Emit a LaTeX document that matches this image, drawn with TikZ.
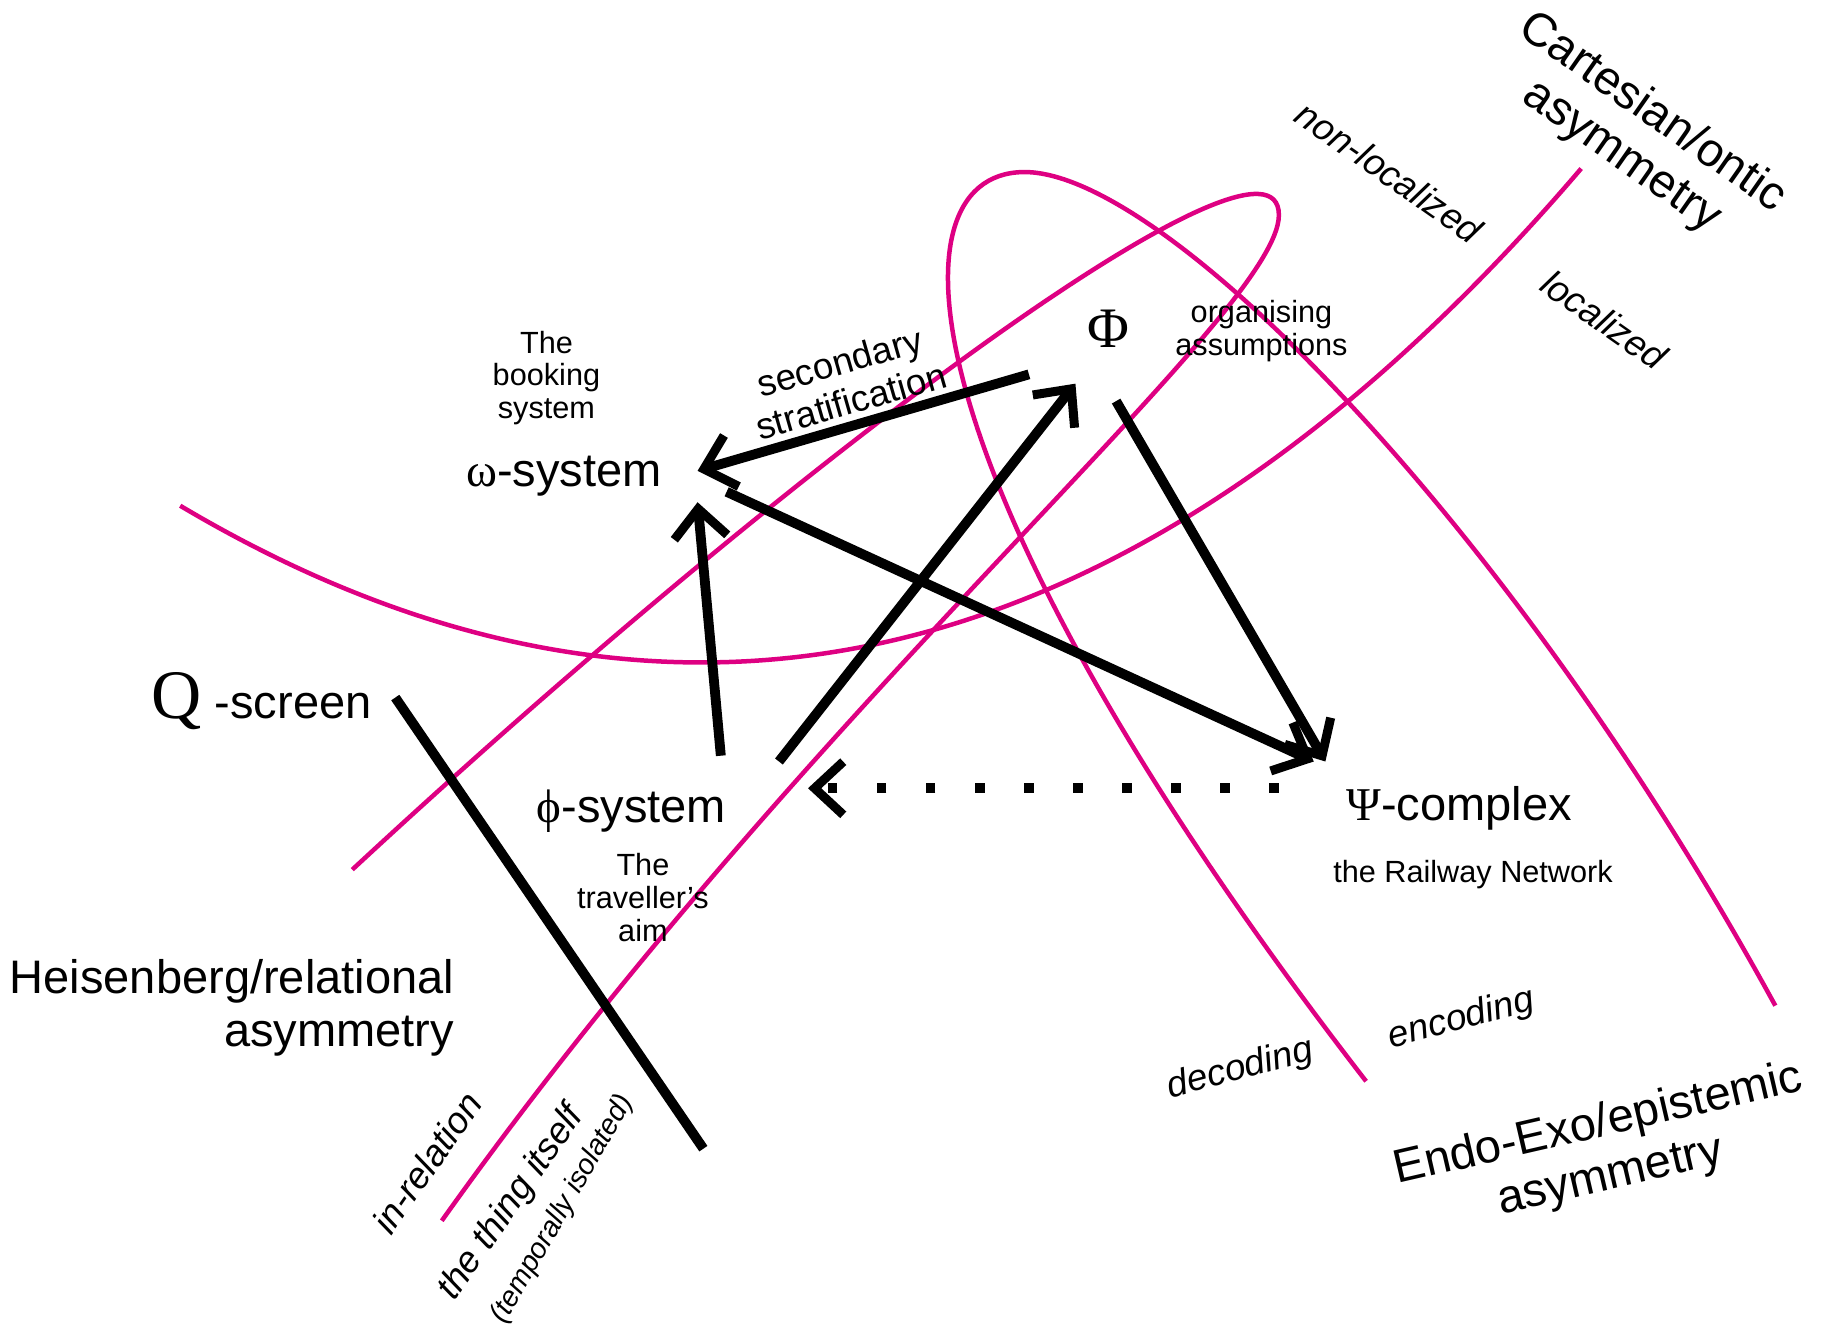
\documentclass[tikz,border=0pt]{standalone}
\usepackage{fontspec}
\setmainfont{Liberation Sans}
\newfontfamily\greek{Liberation Serif}
\usetikzlibrary{arrows.meta}
\definecolor{cut}{RGB}{222,0,130}
\tikzset{
  cutline/.style={cut, line width=1.1pt},
  rel/.style={line width=2.4pt, -{Straight Barb[length=7pt,width=13pt,line width=2.2pt]}},
  small/.style={font=\fontsize{7.5}{8}\selectfont, align=center},
  big/.style={font=\fontsize{11.5}{13}\selectfont},
  side/.style={font=\itshape\fontsize{9}{10}\selectfont},
}
\begin{document}
\begin{tikzpicture}[x=0.01cm, y=-0.01cm]
  \useasboundingbox (0,0) rectangle (1568,1146);

  % cuts
  \draw[cutline] (155,435) .. controls (500,640) and (920,660) .. (1360,145);
  \draw[cutline] (303,748) .. controls (700,380) and (1100,90) .. (1100,185)
                 .. controls (1100,270) and (700,600) .. (380,1050);
  \draw[cutline] (1175,930) .. controls (780,420) and (760,150) .. (880,148)
                 .. controls (1000,146) and (1300,450) .. (1527,865);
  \draw[line width=2.4pt] (340,600) -- (605,988);

  % systems
  \node[small] (book) at (470,325) {The\\booking\\system};
  \node[big] (omega) at (485,410) {{\greek ω}-system};
  \node[font=\fontsize{14}{14}\selectfont\greek] (Phi) at (953,283) {Φ};
  \node[small] (org) at (1085,285) {organising\\assumptions};
  \node[big] (phi) at (543,698) {{\greek ϕ}-system};
  \node[small] (aim) at (553,772) {The\\traveller’s\\aim};
  \node[big] (Psi) at (1255,695) {{\greek Ψ}-complex};
  \node[small] (rail) at (1267,752) {the Railway Network};
  \node[big] (Q) at (225,603) {{\fontsize{17}{17}\selectfont\greek Q} -screen};
  \node[small, font=\fontsize{9}{10}\selectfont, rotate=16] (strat) at (727,328) {secondary\\stratification};

  % ends of the relations
  \coordinate (a1) at (885,322);  \coordinate (a2) at (600,405);
  \coordinate (b1) at (620,650);  \coordinate (b2) at (600,432);
  \coordinate (c1) at (670,655);  \coordinate (c2) at (925,330);
  \coordinate (d1) at (960,345);  \coordinate (d2) at (1140,655);
  \coordinate (e1) at (625,423);  \coordinate (e2) at (1130,655);
  \coordinate (f1) at (1100,678); \coordinate (f2) at (695,678);
  \draw[rel] (a1) -- (a2);
  \draw[rel] (b1) -- (b2);
  \draw[rel] (c1) -- (c2);
  \draw[rel] (d1) -- (d2);
  \draw[rel] (e1) -- (e2);
  \draw[rel, dash pattern=on 2.4pt off 9.6pt] (f1) -- (f2);

  % asymmetries
  \node[big, align=right, anchor=east] (heis) at (403,867) {Heisenberg/relational\\asymmetry};
  \node[side, rotate=55] (inrel) at (367,1000) {in-relation};
  \node[side, rotate=55] (thing) at (440,1035) {the thing itself};
  \node[side, rotate=60, font=\itshape\fontsize{7}{8}\selectfont] (isol) at (484,1040) {(temporally isolated)};
  \node[side, rotate=15] (dec) at (1067,920) {decoding};
  \node[side, rotate=15] (enc) at (1257,877) {encoding};
  \node[big, align=center, rotate=13] (endo) at (1380,990) {Endo-Exo/epistemic\\asymmetry};
  \node[side, rotate=-35] (nonloc) at (1195,148) {non-localized};
  \node[side, rotate=-35] (loc) at (1380,275) {localized};
  \node[big, align=center, rotate=-35] (cart) at (1408,116) {Cartesian/ontic\\asymmetry};
\end{tikzpicture}
\end{document}
